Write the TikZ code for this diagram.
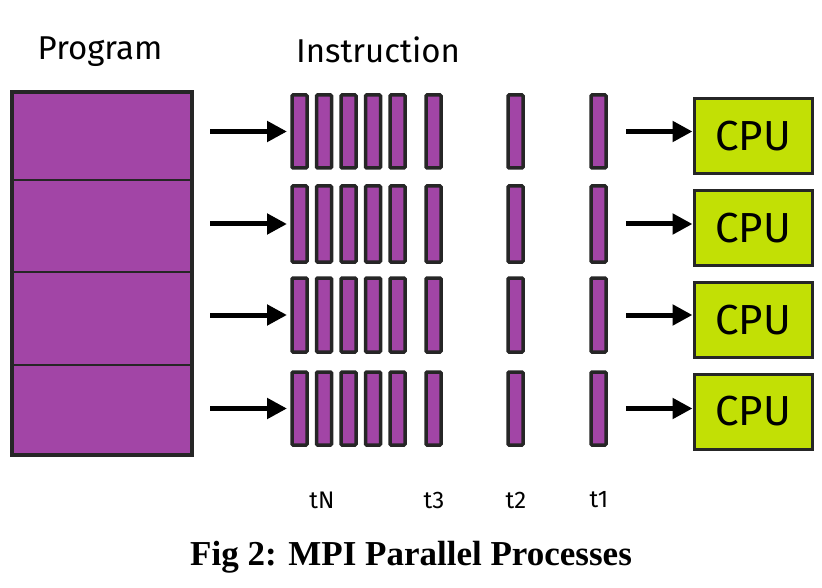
\documentclass[tikz,border=0pt]{standalone}
\usepackage{fontspec}
\setmainfont{Liberation Serif}
\newfontfamily\lab{Fira Sans}
\usetikzlibrary{arrows.meta}
\definecolor{purp}{HTML}{A245A6}
\definecolor{lime}{HTML}{C2E005}
\tikzset{bar/.style={draw=black!85,line width=3.5pt,fill=purp,rounded corners=1pt},
 prow/.style={draw=black!85,line width=2.5pt,fill=purp},
 cpu/.style={draw=black!85,line width=3pt,fill=lime,minimum width=118pt,minimum height=75pt,font=\lab\fontsize{42}{42}\selectfont},
 arr/.style={-{Triangle[length=20pt,width=20pt]},line width=5pt}}
\begin{document}
\begin{tikzpicture}[x=1pt,y=-1pt]
\useasboundingbox (0,0) rectangle (822,588);
\node[font=\lab\fontsize{33}{33}\selectfont] (prog) at (100,52) {Program};
\node[font=\lab\fontsize{33}{33}\selectfont] (instr) at (378,50) {Instruction};
\foreach \i/\a/\b/\ca/\cb/\pa/\pb in {1/95/168/96/176/92/180,2/186/262/190/266/180/272,3/278/352/282/358/272/365,4/372/445/373/450/365/455}{
  \path[prow] (12,\pa) rectangle (192,\pb);
  \foreach \k/\x in {1/292,2/316.5,3/341,4/365.5,5/390,6/426,7/508,8/591}
    \path[bar] (\x,\a) rectangle ++(15,\b-\a);
  \coordinate (s\i) at (210,{(\a+\b)/2});
  \coordinate (e\i) at (287,{(\a+\b)/2});
  \draw[arr] (s\i) -- (e\i);
  \node[cpu] (c\i) at (753,{(\ca+\cb)/2}) {CPU};
  \coordinate (q\i) at (626,{(\a+\b)/2});
  \draw[arr] (q\i) -- (c\i.west |- q\i);
}
\draw[draw=black!85,line width=4.5pt] (12,92) rectangle (192,455);
\foreach \n/\x/\t in {tn/322/tN,t3/434/t3,t2/516/t2,t1/599/t1}
  \node[font=\lab\fontsize{24}{24}\selectfont] (\n) at (\x,500) {\t};
\node[font=\bfseries\fontsize{35}{35}\selectfont] (cap) at (411,557) {Fig 2: MPI Parallel Processes};
\end{tikzpicture}
\end{document}
